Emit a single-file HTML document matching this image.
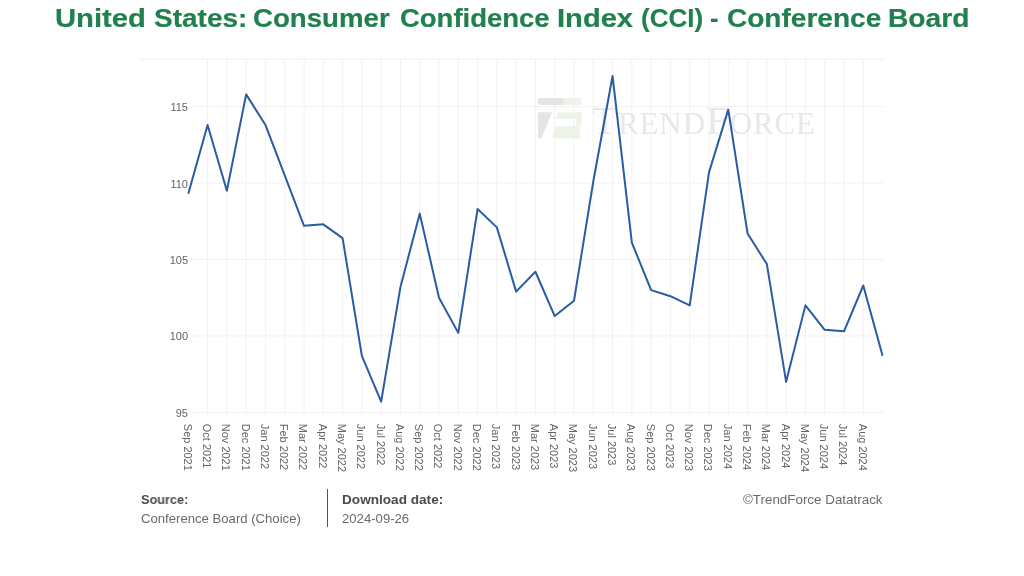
<!DOCTYPE html>
<html><head><meta charset="utf-8"><style>
html,body{margin:0;padding:0;background:#fff;width:1024px;height:576px;overflow:hidden;position:relative;font-family:"Liberation Sans",sans-serif}
.t{position:absolute;top:3px;-webkit-text-stroke:0.2px #21804f;font-weight:bold;color:#21804f;font-size:25.5px;line-height:30px;white-space:nowrap;transform-origin:left top}
svg{position:absolute;left:0;top:0}
svg,.f,.t{will-change:transform}
.f{position:absolute;white-space:nowrap;line-height:16px}
.b{font-weight:bold;color:#4a4a4a}
.r{color:#6a6a6a}
.dv{position:absolute;left:327.3px;top:489px;width:1px;height:38px;background:#555}
</style></head><body>
<div class="t" style="left:55.45px;transform:scaleX(1.1468)">United</div><div class="t" style="left:153.9px;transform:scaleX(1.0976)">States:</div><div class="t" style="left:253.42px;transform:scaleX(1.084)">Consumer</div><div class="t" style="left:400.12px;transform:scaleX(1.0774)">Confidence</div><div class="t" style="left:557.12px;transform:scaleX(1.1422)">Index</div><div class="t" style="left:641.28px;transform:scaleX(1.0203)">(CCI)</div><div class="t" style="left:710.4px;transform:scaleX(1.0)">-</div><div class="t" style="left:726.7px;transform:scaleX(1.0993)">Conference</div><div class="t" style="left:887.79px;transform:scaleX(1.1057)">Board</div>
<svg width="1024" height="576" viewBox="0 0 1024 576">
<rect x="139" y="58.5" width="745" height="1" fill="#f0f0f0"/>
<rect x="207.09" y="59" width="1" height="356" fill="#f2f2f2"/>
<rect x="226.37" y="59" width="1" height="356" fill="#f2f2f2"/>
<rect x="245.66" y="59" width="1" height="356" fill="#f2f2f2"/>
<rect x="264.94" y="59" width="1" height="356" fill="#f2f2f2"/>
<rect x="284.23" y="59" width="1" height="356" fill="#f2f2f2"/>
<rect x="303.51" y="59" width="1" height="356" fill="#f2f2f2"/>
<rect x="322.80" y="59" width="1" height="356" fill="#f2f2f2"/>
<rect x="342.08" y="59" width="1" height="356" fill="#f2f2f2"/>
<rect x="361.37" y="59" width="1" height="356" fill="#f2f2f2"/>
<rect x="380.65" y="59" width="1" height="356" fill="#f2f2f2"/>
<rect x="399.94" y="59" width="1" height="356" fill="#f2f2f2"/>
<rect x="419.22" y="59" width="1" height="356" fill="#f2f2f2"/>
<rect x="438.50" y="59" width="1" height="356" fill="#f2f2f2"/>
<rect x="457.79" y="59" width="1" height="356" fill="#f2f2f2"/>
<rect x="477.07" y="59" width="1" height="356" fill="#f2f2f2"/>
<rect x="496.36" y="59" width="1" height="356" fill="#f2f2f2"/>
<rect x="515.64" y="59" width="1" height="356" fill="#f2f2f2"/>
<rect x="534.93" y="59" width="1" height="356" fill="#f2f2f2"/>
<rect x="554.22" y="59" width="1" height="356" fill="#f2f2f2"/>
<rect x="573.50" y="59" width="1" height="356" fill="#f2f2f2"/>
<rect x="592.79" y="59" width="1" height="356" fill="#f2f2f2"/>
<rect x="612.07" y="59" width="1" height="356" fill="#f2f2f2"/>
<rect x="631.36" y="59" width="1" height="356" fill="#f2f2f2"/>
<rect x="650.64" y="59" width="1" height="356" fill="#f2f2f2"/>
<rect x="669.92" y="59" width="1" height="356" fill="#f2f2f2"/>
<rect x="689.21" y="59" width="1" height="356" fill="#f2f2f2"/>
<rect x="708.50" y="59" width="1" height="356" fill="#f2f2f2"/>
<rect x="727.78" y="59" width="1" height="356" fill="#f2f2f2"/>
<rect x="747.07" y="59" width="1" height="356" fill="#f2f2f2"/>
<rect x="766.35" y="59" width="1" height="356" fill="#f2f2f2"/>
<rect x="785.63" y="59" width="1" height="356" fill="#f2f2f2"/>
<rect x="804.92" y="59" width="1" height="356" fill="#f2f2f2"/>
<rect x="824.20" y="59" width="1" height="356" fill="#f2f2f2"/>
<rect x="843.49" y="59" width="1" height="356" fill="#f2f2f2"/>
<rect x="862.78" y="59" width="1" height="356" fill="#f2f2f2"/>
<rect x="191" y="411.90" width="693" height="1" fill="#f2f2f2"/>
<rect x="191" y="335.45" width="693" height="1" fill="#f2f2f2"/>
<rect x="191" y="259.00" width="693" height="1" fill="#f2f2f2"/>
<rect x="191" y="182.55" width="693" height="1" fill="#f2f2f2"/>
<rect x="191" y="106.10" width="693" height="1" fill="#f2f2f2"/>
<path d="M540 98 L563 98 L563 105 L540 105 Q538 105 538 103 L538 100 Q538 98 540 98 Z" fill="#e4e4e4"/>
<rect x="563" y="98" width="18.6" height="7" fill="#eef3e8"/>
<path d="M538 112.3 L552 112.3 L542 137 Q541 139 539.5 138.5 Q538 138 538 136 Z" fill="#e4e4e4"/>
<path d="M557.5 112.3 L581.6 112.3 L581.6 126.3 L580 126.3 L580 138.5 L552 138.5 L554.8 126.3 L576.2 126.3 L576.2 119 L555.8 119 Z" fill="#eef3e8"/>
<text x="592" y="133.6" font-family="Liberation Serif" fill="#e8e8e8" font-size="41" letter-spacing="0.9">T<tspan font-size="31">REND</tspan>F<tspan font-size="31">ORCE</tspan></text>
<text transform="translate(188,416.90) scale(1.05,1)" text-anchor="end" font-family="Liberation Sans" font-size="10.5" fill="#636363">95</text>
<text transform="translate(188,340.45) scale(1.05,1)" text-anchor="end" font-family="Liberation Sans" font-size="10.5" fill="#636363">100</text>
<text transform="translate(188,264.00) scale(1.05,1)" text-anchor="end" font-family="Liberation Sans" font-size="10.5" fill="#636363">105</text>
<text transform="translate(188,187.55) scale(1.05,1)" text-anchor="end" font-family="Liberation Sans" font-size="10.5" fill="#636363">110</text>
<text transform="translate(188,111.10) scale(1.05,1)" text-anchor="end" font-family="Liberation Sans" font-size="10.5" fill="#636363">115</text>
<polyline points="188.30,193.75 207.59,124.95 226.87,190.69 246.16,94.37 265.44,124.95 284.73,175.41 304.01,225.86 323.30,224.33 342.58,238.09 361.87,355.83 381.15,401.70 400.44,287.02 419.72,213.63 439.00,297.72 458.29,332.89 477.57,209.04 496.86,227.39 516.14,291.61 535.43,271.73 554.72,316.07 574.00,300.78 593.29,181.52 612.57,76.02 631.86,242.68 651.14,290.08 670.42,296.20 689.71,305.37 709.00,172.35 728.28,109.66 747.57,233.51 766.85,264.09 786.13,381.82 805.42,305.37 824.70,329.83 843.99,331.36 863.28,285.49 882.56,355.83" fill="none" stroke="#2a5ca4" stroke-width="2" stroke-linejoin="round"/>
<text transform="translate(183.70,423.8) rotate(90) scale(1.1,1)" font-family="Liberation Sans" font-size="10" fill="#636363">Sep 2021</text>
<text transform="translate(202.99,423.8) rotate(90) scale(1.1,1)" font-family="Liberation Sans" font-size="10" fill="#636363">Oct 2021</text>
<text transform="translate(222.27,423.8) rotate(90) scale(1.1,1)" font-family="Liberation Sans" font-size="10" fill="#636363">Nov 2021</text>
<text transform="translate(241.56,423.8) rotate(90) scale(1.1,1)" font-family="Liberation Sans" font-size="10" fill="#636363">Dec 2021</text>
<text transform="translate(260.84,423.8) rotate(90) scale(1.1,1)" font-family="Liberation Sans" font-size="10" fill="#636363">Jan 2022</text>
<text transform="translate(280.12,423.8) rotate(90) scale(1.1,1)" font-family="Liberation Sans" font-size="10" fill="#636363">Feb 2022</text>
<text transform="translate(299.41,423.8) rotate(90) scale(1.1,1)" font-family="Liberation Sans" font-size="10" fill="#636363">Mar 2022</text>
<text transform="translate(318.69,423.8) rotate(90) scale(1.1,1)" font-family="Liberation Sans" font-size="10" fill="#636363">Apr 2022</text>
<text transform="translate(337.98,423.8) rotate(90) scale(1.1,1)" font-family="Liberation Sans" font-size="10" fill="#636363">May 2022</text>
<text transform="translate(357.26,423.8) rotate(90) scale(1.1,1)" font-family="Liberation Sans" font-size="10" fill="#636363">Jun 2022</text>
<text transform="translate(376.55,423.8) rotate(90) scale(1.1,1)" font-family="Liberation Sans" font-size="10" fill="#636363">Jul 2022</text>
<text transform="translate(395.83,423.8) rotate(90) scale(1.1,1)" font-family="Liberation Sans" font-size="10" fill="#636363">Aug 2022</text>
<text transform="translate(415.12,423.8) rotate(90) scale(1.1,1)" font-family="Liberation Sans" font-size="10" fill="#636363">Sep 2022</text>
<text transform="translate(434.40,423.8) rotate(90) scale(1.1,1)" font-family="Liberation Sans" font-size="10" fill="#636363">Oct 2022</text>
<text transform="translate(453.69,423.8) rotate(90) scale(1.1,1)" font-family="Liberation Sans" font-size="10" fill="#636363">Nov 2022</text>
<text transform="translate(472.97,423.8) rotate(90) scale(1.1,1)" font-family="Liberation Sans" font-size="10" fill="#636363">Dec 2022</text>
<text transform="translate(492.26,423.8) rotate(90) scale(1.1,1)" font-family="Liberation Sans" font-size="10" fill="#636363">Jan 2023</text>
<text transform="translate(511.54,423.8) rotate(90) scale(1.1,1)" font-family="Liberation Sans" font-size="10" fill="#636363">Feb 2023</text>
<text transform="translate(530.83,423.8) rotate(90) scale(1.1,1)" font-family="Liberation Sans" font-size="10" fill="#636363">Mar 2023</text>
<text transform="translate(550.12,423.8) rotate(90) scale(1.1,1)" font-family="Liberation Sans" font-size="10" fill="#636363">Apr 2023</text>
<text transform="translate(569.40,423.8) rotate(90) scale(1.1,1)" font-family="Liberation Sans" font-size="10" fill="#636363">May 2023</text>
<text transform="translate(588.69,423.8) rotate(90) scale(1.1,1)" font-family="Liberation Sans" font-size="10" fill="#636363">Jun 2023</text>
<text transform="translate(607.97,423.8) rotate(90) scale(1.1,1)" font-family="Liberation Sans" font-size="10" fill="#636363">Jul 2023</text>
<text transform="translate(627.25,423.8) rotate(90) scale(1.1,1)" font-family="Liberation Sans" font-size="10" fill="#636363">Aug 2023</text>
<text transform="translate(646.54,423.8) rotate(90) scale(1.1,1)" font-family="Liberation Sans" font-size="10" fill="#636363">Sep 2023</text>
<text transform="translate(665.82,423.8) rotate(90) scale(1.1,1)" font-family="Liberation Sans" font-size="10" fill="#636363">Oct 2023</text>
<text transform="translate(685.11,423.8) rotate(90) scale(1.1,1)" font-family="Liberation Sans" font-size="10" fill="#636363">Nov 2023</text>
<text transform="translate(704.40,423.8) rotate(90) scale(1.1,1)" font-family="Liberation Sans" font-size="10" fill="#636363">Dec 2023</text>
<text transform="translate(723.68,423.8) rotate(90) scale(1.1,1)" font-family="Liberation Sans" font-size="10" fill="#636363">Jan 2024</text>
<text transform="translate(742.97,423.8) rotate(90) scale(1.1,1)" font-family="Liberation Sans" font-size="10" fill="#636363">Feb 2024</text>
<text transform="translate(762.25,423.8) rotate(90) scale(1.1,1)" font-family="Liberation Sans" font-size="10" fill="#636363">Mar 2024</text>
<text transform="translate(781.53,423.8) rotate(90) scale(1.1,1)" font-family="Liberation Sans" font-size="10" fill="#636363">Apr 2024</text>
<text transform="translate(800.82,423.8) rotate(90) scale(1.1,1)" font-family="Liberation Sans" font-size="10" fill="#636363">May 2024</text>
<text transform="translate(820.10,423.8) rotate(90) scale(1.1,1)" font-family="Liberation Sans" font-size="10" fill="#636363">Jun 2024</text>
<text transform="translate(839.39,423.8) rotate(90) scale(1.1,1)" font-family="Liberation Sans" font-size="10" fill="#636363">Jul 2024</text>
<text transform="translate(858.68,423.8) rotate(90) scale(1.1,1)" font-family="Liberation Sans" font-size="10" fill="#636363">Aug 2024</text>
</svg>
<div class="f b" id="s1" style="left:141px;top:491.5px;font-size:13px;transform:scaleX(0.98);transform-origin:left top">Source:</div>
<div class="f r" id="s2" style="left:141px;top:510.5px;font-size:13px;transform:scaleX(1.01);transform-origin:left top">Conference Board (Choice)</div>
<div class="dv"></div>
<div class="f b" id="d1" style="left:342px;top:491.5px;font-size:13px;transform:scaleX(1.046);transform-origin:left top">Download date:</div>
<div class="f r" id="d2" style="left:342px;top:510.5px;font-size:13px;transform:scaleX(1.01);transform-origin:left top">2024-09-26</div>
<div class="f r" id="c1" style="right:141px;top:491.5px;font-size:13px;transform:scaleX(1.03);transform-origin:right top">©TrendForce Datatrack</div>
</body></html>
